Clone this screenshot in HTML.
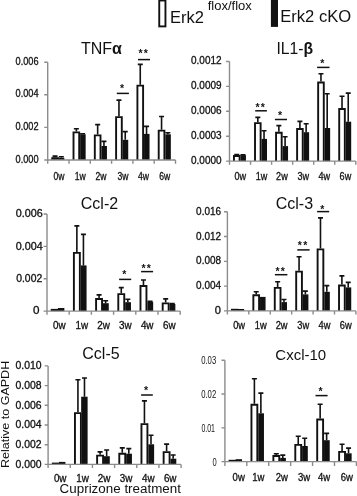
<!DOCTYPE html>
<html><head><meta charset="utf-8"><title>Erk2 cytokine expression</title>
<style>
html,body{margin:0;padding:0;background:#fff;width:357px;height:496px;overflow:hidden}
svg{display:block}
text{font-family:"Liberation Sans", Arial, sans-serif;fill:#111}
.s{stroke:#111;stroke-width:0.3px}
</style></head><body>
<svg width="357" height="496" viewBox="0 0 357 496">
<text class="s" x="38.6" y="64.8" text-anchor="end" font-size="10.5" textLength="23" lengthAdjust="spacingAndGlyphs">0.006</text>
<text class="s" x="38.6" y="97.4" text-anchor="end" font-size="10.5" textLength="23" lengthAdjust="spacingAndGlyphs">0.004</text>
<text class="s" x="38.6" y="130" text-anchor="end" font-size="10.5" textLength="23" lengthAdjust="spacingAndGlyphs">0.002</text>
<text class="s" x="38.6" y="162.6" text-anchor="end" font-size="10.5" textLength="23" lengthAdjust="spacingAndGlyphs">0.000</text>
<rect x="58.15" y="157.8" width="6.19" height="2.2" fill="#111"/><rect x="51.26" y="157.2" width="7.59" height="2.8" fill="#111"/><rect x="79.45" y="134.3" width="6.19" height="25.7" fill="#111"/><rect x="72.56" y="131.4" width="7.59" height="28.6" fill="#fff"/><path d="M73.51 160V132.35H79.2V160" fill="none" stroke="#111" stroke-width="1.9"/><rect x="100.75" y="146" width="6.19" height="14" fill="#111"/><rect x="93.86" y="134.4" width="7.59" height="25.6" fill="#fff"/><path d="M94.81 160V135.35H100.5V160" fill="none" stroke="#111" stroke-width="1.9"/><rect x="122.05" y="139.8" width="6.19" height="20.2" fill="#111"/><rect x="115.16" y="116.2" width="7.59" height="43.8" fill="#fff"/><path d="M116.11 160V117.15H121.8V160" fill="none" stroke="#111" stroke-width="1.9"/><rect x="143.35" y="133.9" width="6.19" height="26.1" fill="#111"/><rect x="136.46" y="84.7" width="7.59" height="75.3" fill="#fff"/><path d="M137.41 160V85.65H143.1V160" fill="none" stroke="#111" stroke-width="1.9"/><rect x="164.65" y="134.3" width="6.19" height="25.7" fill="#111"/><rect x="157.76" y="129.7" width="7.59" height="30.3" fill="#fff"/><path d="M158.71 160V130.65H164.4V160" fill="none" stroke="#111" stroke-width="1.9"/>
<path d="M55.05 157.2V155.8M52.55 156.1H57.55M61.34 157.8V156.4M58.84 156.7H63.84M76.36 131.4V128.4M73.86 128.7H78.86M82.64 134.3V133.4M80.14 133.7H85.14M97.66 134.4V124.3M95.16 124.6H100.16M103.94 146V141.1M101.44 141.4H106.44M118.95 116.2V99.8M116.45 100.1H121.45M125.24 139.8V131.3M122.74 131.6H127.74M140.26 84.7V64.1M137.76 64.4H142.76M146.55 133.9V126.1M144.05 126.4H149.05M161.56 129.7V116.2M159.06 116.5H164.06M167.85 134.3V132.5M165.35 132.8H170.35" stroke="#111" stroke-width="1.6" fill="none"/>
<g stroke="#8c8c8c" stroke-width="1.4" fill="none"><path d="M47.7 62.2V163.7M44.3 160H175.5" /><path d="M44.3 62.2H47.7M44.3 94.8H47.7M44.3 127.4H47.7M69 160V163.7M90.3 160V163.7M111.6 160V163.7M132.9 160V163.7M154.2 160V163.7M175.5 160V163.7" /></g>
<path d="M116.8 93.4H128.9" stroke="#111" stroke-width="1.5"/>
<text x="121.95" y="92.4" text-anchor="middle" font-size="10.5" font-weight="bold">*</text>
<path d="M138 59.6H150" stroke="#111" stroke-width="1.5"/>
<text x="140.45" y="57" text-anchor="middle" font-size="10.5" font-weight="bold">*</text>
<text x="145.75" y="57" text-anchor="middle" font-size="10.5" font-weight="bold">*</text>
<text class="s" x="58.9" y="180" text-anchor="middle" font-size="10.5" textLength="11" lengthAdjust="spacingAndGlyphs">0w</text>
<text class="s" x="80.3" y="180" text-anchor="middle" font-size="10.5" textLength="11" lengthAdjust="spacingAndGlyphs">1w</text>
<text class="s" x="100.9" y="180" text-anchor="middle" font-size="10.5" textLength="11" lengthAdjust="spacingAndGlyphs">2w</text>
<text class="s" x="123" y="180" text-anchor="middle" font-size="10.5" textLength="11" lengthAdjust="spacingAndGlyphs">3w</text>
<text class="s" x="143.4" y="180" text-anchor="middle" font-size="10.5" textLength="11" lengthAdjust="spacingAndGlyphs">4w</text>
<text class="s" x="164.7" y="180" text-anchor="middle" font-size="10.5" textLength="11" lengthAdjust="spacingAndGlyphs">6w</text>
<text class="s" x="221.6" y="64.1" text-anchor="end" font-size="10.5" textLength="30.6" lengthAdjust="spacingAndGlyphs">0.0012</text>
<text class="s" x="221.6" y="89.2" text-anchor="end" font-size="10.5" textLength="30.6" lengthAdjust="spacingAndGlyphs">0.0009</text>
<text class="s" x="221.6" y="114.3" text-anchor="end" font-size="10.5" textLength="30.6" lengthAdjust="spacingAndGlyphs">0.0006</text>
<text class="s" x="221.6" y="139.2" text-anchor="end" font-size="10.5" textLength="30.6" lengthAdjust="spacingAndGlyphs">0.0003</text>
<text class="s" x="221.6" y="164.1" text-anchor="end" font-size="10.5" textLength="30.6" lengthAdjust="spacingAndGlyphs">0.0000</text>
<rect x="239.83" y="155.2" width="6.12" height="5.9" fill="#111"/><rect x="233.01" y="155" width="7.51" height="6.1" fill="#fff"/><path d="M233.96 161.1V155.95H239.58V161.1" fill="none" stroke="#111" stroke-width="1.9"/><rect x="260.88" y="138.9" width="6.12" height="22.2" fill="#111"/><rect x="254.06" y="122.2" width="7.51" height="38.9" fill="#fff"/><path d="M255.01 161.1V123.15H260.62V161.1" fill="none" stroke="#111" stroke-width="1.9"/><rect x="281.93" y="146.1" width="6.12" height="15" fill="#111"/><rect x="275.11" y="131.8" width="7.51" height="29.3" fill="#fff"/><path d="M276.06 161.1V132.75H281.68V161.1" fill="none" stroke="#111" stroke-width="1.9"/><rect x="302.98" y="132.2" width="6.12" height="28.9" fill="#111"/><rect x="296.16" y="128" width="7.51" height="33.1" fill="#fff"/><path d="M297.11 161.1V128.95H302.73V161.1" fill="none" stroke="#111" stroke-width="1.9"/><rect x="324.03" y="128" width="6.12" height="33.1" fill="#111"/><rect x="317.21" y="81.5" width="7.51" height="79.6" fill="#fff"/><path d="M318.16 161.1V82.45H323.78V161.1" fill="none" stroke="#111" stroke-width="1.9"/><rect x="345.07" y="121.7" width="6.12" height="39.4" fill="#111"/><rect x="338.26" y="108.1" width="7.51" height="53" fill="#fff"/><path d="M339.21 161.1V109.05H344.82V161.1" fill="none" stroke="#111" stroke-width="1.9"/>
<path d="M236.77 155V154.3M234.27 154.6H239.27M242.98 155.2V154.6M240.48 154.9H245.48M257.82 122.2V117.1M255.32 117.4H260.32M264.03 138.9V130.4M261.53 130.7H266.53M278.87 131.8V125.3M276.37 125.6H281.37M285.08 146.1V136.5M282.58 136.8H287.58M299.92 128V121.1M297.42 121.4H302.42M306.13 132.2V123.5M303.63 123.8H308.63M320.97 81.5V73.4M318.47 73.7H323.47M327.18 128V93.5M324.68 93.8H329.68M342.02 108.1V95.9M339.52 96.2H344.52M348.23 121.7V92.8M345.73 93.1H350.73" stroke="#111" stroke-width="1.6" fill="none"/>
<g stroke="#8c8c8c" stroke-width="1.4" fill="none"><path d="M229.5 61.5V164.8M226.1 161.1H355.8" /><path d="M226.1 61.5H229.5M226.1 86.4H229.5M226.1 111.3H229.5M226.1 136.2H229.5M250.55 161.1V164.8M271.6 161.1V164.8M292.65 161.1V164.8M313.7 161.1V164.8M334.75 161.1V164.8M355.8 161.1V164.8" /></g>
<path d="M255.2 110.8H266.9" stroke="#111" stroke-width="1.5"/>
<text x="257.5" y="110.5" text-anchor="middle" font-size="10.5" font-weight="bold">*</text>
<text x="262.8" y="110.5" text-anchor="middle" font-size="10.5" font-weight="bold">*</text>
<path d="M274.9 119.5H287" stroke="#111" stroke-width="1.5"/>
<text x="280.05" y="119" text-anchor="middle" font-size="10.5" font-weight="bold">*</text>
<path d="M317.1 67.4H329.5" stroke="#111" stroke-width="1.5"/>
<text x="322.4" y="66.9" text-anchor="middle" font-size="10.5" font-weight="bold">*</text>
<text class="s" x="240.2" y="179.8" text-anchor="middle" font-size="10.5" textLength="11.61" lengthAdjust="spacingAndGlyphs">0w</text>
<text class="s" x="261.5" y="179.8" text-anchor="middle" font-size="10.5" textLength="11.61" lengthAdjust="spacingAndGlyphs">1w</text>
<text class="s" x="281.9" y="179.8" text-anchor="middle" font-size="10.5" textLength="11.61" lengthAdjust="spacingAndGlyphs">2w</text>
<text class="s" x="303.2" y="179.8" text-anchor="middle" font-size="10.5" textLength="11.61" lengthAdjust="spacingAndGlyphs">3w</text>
<text class="s" x="324.2" y="179.8" text-anchor="middle" font-size="10.5" textLength="11.61" lengthAdjust="spacingAndGlyphs">4w</text>
<text class="s" x="345.4" y="179.8" text-anchor="middle" font-size="10.5" textLength="11.61" lengthAdjust="spacingAndGlyphs">6w</text>
<text class="s" x="42.8" y="217.2" text-anchor="end" font-size="10.5" textLength="27" lengthAdjust="spacingAndGlyphs">0.006</text>
<text class="s" x="42.8" y="249.57" text-anchor="end" font-size="10.5" textLength="27" lengthAdjust="spacingAndGlyphs">0.004</text>
<text class="s" x="42.2" y="281.93" text-anchor="end" font-size="10.5" textLength="26" lengthAdjust="spacingAndGlyphs">0.002</text>
<text class="s" x="39.4" y="314.1" text-anchor="end" font-size="10.5" textLength="6.5" lengthAdjust="spacingAndGlyphs">0</text>
<rect x="57.9" y="308" width="6.46" height="3.1" fill="#111"/><rect x="50.74" y="308.9" width="7.86" height="2.2" fill="#111"/><rect x="80.1" y="265.4" width="6.46" height="45.7" fill="#111"/><rect x="72.94" y="251.9" width="7.86" height="59.2" fill="#fff"/><path d="M73.89 311.1V252.85H79.85V311.1" fill="none" stroke="#111" stroke-width="1.9"/><rect x="102.3" y="303.2" width="6.46" height="7.9" fill="#111"/><rect x="95.14" y="298" width="7.86" height="13.1" fill="#fff"/><path d="M96.09 311.1V298.95H102.05V311.1" fill="none" stroke="#111" stroke-width="1.9"/><rect x="124.5" y="302.2" width="6.46" height="8.9" fill="#111"/><rect x="117.34" y="293.2" width="7.86" height="17.9" fill="#fff"/><path d="M118.29 311.1V294.15H124.25V311.1" fill="none" stroke="#111" stroke-width="1.9"/><rect x="146.7" y="301.8" width="6.46" height="9.3" fill="#111"/><rect x="139.54" y="285.1" width="7.86" height="26" fill="#fff"/><path d="M140.49 311.1V286.05H146.45V311.1" fill="none" stroke="#111" stroke-width="1.9"/><rect x="168.9" y="304" width="6.46" height="7.1" fill="#111"/><rect x="161.74" y="302.4" width="7.86" height="8.7" fill="#fff"/><path d="M162.69 311.1V303.35H168.65V311.1" fill="none" stroke="#111" stroke-width="1.9"/>
<path d="M76.87 251.9V225.6M74.37 225.9H79.37M83.43 265.4V234.1M80.93 234.4H85.93M99.07 298V294.6M96.57 294.9H101.57M105.63 303.2V300.5M103.13 300.8H108.13M121.27 293.2V287.3M118.77 287.6H123.77M127.83 302.2V299M125.33 299.3H130.33M143.47 285.1V279.7M140.97 280H145.97M150.03 301.8V300.9M147.53 301.2H152.53M165.67 302.4V298.6M163.17 298.9H168.17M172.23 304V303.2M169.73 303.5H174.73" stroke="#111" stroke-width="1.6" fill="none"/>
<g stroke="#8c8c8c" stroke-width="1.4" fill="none"><path d="M47 214V314.8M43.6 311.1H180.2" /><path d="M43.6 214H47M43.6 246.37H47M43.6 278.73H47M69.2 311.1V314.8M91.4 311.1V314.8M113.6 311.1V314.8M135.8 311.1V314.8M158 311.1V314.8M180.2 311.1V314.8" /></g>
<path d="M119.1 279.4H131.2" stroke="#111" stroke-width="1.5"/>
<text x="124.25" y="278" text-anchor="middle" font-size="10.5" font-weight="bold">*</text>
<path d="M141.1 271.6H153.1" stroke="#111" stroke-width="1.5"/>
<text x="143.55" y="271.5" text-anchor="middle" font-size="10.5" font-weight="bold">*</text>
<text x="148.85" y="271.5" text-anchor="middle" font-size="10.5" font-weight="bold">*</text>
<text class="s" x="59.4" y="328.9" text-anchor="middle" font-size="10.3" textLength="12.6" lengthAdjust="spacingAndGlyphs">0w</text>
<text class="s" x="81.75" y="328.9" text-anchor="middle" font-size="10.3" textLength="12.6" lengthAdjust="spacingAndGlyphs">1w</text>
<text class="s" x="103.65" y="328.9" text-anchor="middle" font-size="10.3" textLength="12.6" lengthAdjust="spacingAndGlyphs">2w</text>
<text class="s" x="125.4" y="328.9" text-anchor="middle" font-size="10.3" textLength="12.6" lengthAdjust="spacingAndGlyphs">3w</text>
<text class="s" x="147.2" y="328.9" text-anchor="middle" font-size="10.3" textLength="12.6" lengthAdjust="spacingAndGlyphs">4w</text>
<text class="s" x="169.3" y="328.9" text-anchor="middle" font-size="10.3" textLength="12.6" lengthAdjust="spacingAndGlyphs">6w</text>
<text class="s" x="221.1" y="214.8" text-anchor="end" font-size="10.5" textLength="25" lengthAdjust="spacingAndGlyphs">0.016</text>
<text class="s" x="221.1" y="239.57" text-anchor="end" font-size="10.5" textLength="25" lengthAdjust="spacingAndGlyphs">0.012</text>
<text class="s" x="221.1" y="264.35" text-anchor="end" font-size="10.5" textLength="25" lengthAdjust="spacingAndGlyphs">0.008</text>
<text class="s" x="221.1" y="289.12" text-anchor="end" font-size="10.5" textLength="25" lengthAdjust="spacingAndGlyphs">0.004</text>
<text class="s" x="221" y="314.1" text-anchor="end" font-size="10.5" textLength="6.2" lengthAdjust="spacingAndGlyphs">0</text>
<rect x="237.91" y="309" width="6.23" height="1.9" fill="#111"/><rect x="230.98" y="308.8" width="7.63" height="2.1" fill="#111"/><rect x="259.33" y="296.9" width="6.23" height="14" fill="#111"/><rect x="252.4" y="294.3" width="7.63" height="16.6" fill="#fff"/><path d="M253.35 310.9V295.25H259.08V310.9" fill="none" stroke="#111" stroke-width="1.9"/><rect x="280.75" y="302.1" width="6.23" height="8.8" fill="#111"/><rect x="273.82" y="286.9" width="7.63" height="24" fill="#fff"/><path d="M274.77 310.9V287.85H280.5V310.9" fill="none" stroke="#111" stroke-width="1.9"/><rect x="302.17" y="294.4" width="6.23" height="16.5" fill="#111"/><rect x="295.24" y="270.7" width="7.63" height="40.2" fill="#fff"/><path d="M296.19 310.9V271.65H301.92V310.9" fill="none" stroke="#111" stroke-width="1.9"/><rect x="323.59" y="291.8" width="6.23" height="19.1" fill="#111"/><rect x="316.66" y="248.4" width="7.63" height="62.5" fill="#fff"/><path d="M317.61 310.9V249.35H323.34V310.9" fill="none" stroke="#111" stroke-width="1.9"/><rect x="345.01" y="287.4" width="6.23" height="23.5" fill="#111"/><rect x="338.08" y="284.6" width="7.63" height="26.3" fill="#fff"/><path d="M339.03 310.9V285.55H344.76V310.9" fill="none" stroke="#111" stroke-width="1.9"/>
<path d="M256.22 294.3V291.5M253.72 291.8H258.72M277.64 286.9V281.5M275.14 281.8H280.14M283.96 302.1V299.2M281.46 299.5H286.46M299.06 270.7V256.5M296.56 256.8H301.56M305.38 294.4V290.8M302.88 291.1H307.88M320.48 248.4V217.6M317.98 217.9H322.98M326.8 291.8V285.3M324.3 285.6H329.3M341.9 284.6V275.6M339.4 275.9H344.4M348.22 287.4V282.1M345.72 282.4H350.72" stroke="#111" stroke-width="1.6" fill="none"/>
<g stroke="#8c8c8c" stroke-width="1.4" fill="none"><path d="M227.4 211.8V314.6M224 310.9H355.92" /><path d="M224 211.8H227.4M224 236.57H227.4M224 261.35H227.4M224 286.12H227.4M248.82 310.9V314.6M270.24 310.9V314.6M291.66 310.9V314.6M313.08 310.9V314.6M334.5 310.9V314.6M355.92 310.9V314.6" /></g>
<path d="M274.9 274.7H287.4" stroke="#111" stroke-width="1.5"/>
<text x="277.6" y="275" text-anchor="middle" font-size="10.5" font-weight="bold">*</text>
<text x="282.9" y="275" text-anchor="middle" font-size="10.5" font-weight="bold">*</text>
<path d="M297.3 249.9H309.6" stroke="#111" stroke-width="1.5"/>
<text x="299.9" y="248.9" text-anchor="middle" font-size="10.5" font-weight="bold">*</text>
<text x="305.2" y="248.9" text-anchor="middle" font-size="10.5" font-weight="bold">*</text>
<path d="M317.1 211.6H329.2" stroke="#111" stroke-width="1.5"/>
<text x="322.25" y="212.9" text-anchor="middle" font-size="10.5" font-weight="bold">*</text>
<text class="s" x="239.1" y="329" text-anchor="middle" font-size="10.5" textLength="11.9" lengthAdjust="spacingAndGlyphs">0w</text>
<text class="s" x="260.7" y="329" text-anchor="middle" font-size="10.5" textLength="11.9" lengthAdjust="spacingAndGlyphs">1w</text>
<text class="s" x="281.6" y="329" text-anchor="middle" font-size="10.5" textLength="11.9" lengthAdjust="spacingAndGlyphs">2w</text>
<text class="s" x="303.2" y="329" text-anchor="middle" font-size="10.5" textLength="11.9" lengthAdjust="spacingAndGlyphs">3w</text>
<text class="s" x="324.5" y="329" text-anchor="middle" font-size="10.5" textLength="11.9" lengthAdjust="spacingAndGlyphs">4w</text>
<text class="s" x="345.8" y="329" text-anchor="middle" font-size="10.5" textLength="11.9" lengthAdjust="spacingAndGlyphs">6w</text>
<text class="s" x="41.6" y="369.2" text-anchor="end" font-size="10.0" textLength="26" lengthAdjust="spacingAndGlyphs">0.010</text>
<text class="s" x="41.6" y="388.9" text-anchor="end" font-size="10.0" textLength="26" lengthAdjust="spacingAndGlyphs">0.008</text>
<text class="s" x="41.6" y="408.6" text-anchor="end" font-size="10.0" textLength="26" lengthAdjust="spacingAndGlyphs">0.006</text>
<text class="s" x="41.6" y="428.3" text-anchor="end" font-size="10.0" textLength="26" lengthAdjust="spacingAndGlyphs">0.004</text>
<text class="s" x="41.6" y="448" text-anchor="end" font-size="10.0" textLength="26" lengthAdjust="spacingAndGlyphs">0.002</text>
<text class="s" x="41.6" y="467.7" text-anchor="end" font-size="10.0" textLength="26" lengthAdjust="spacingAndGlyphs">0.000</text>
<rect x="58.98" y="461.9" width="6.45" height="2.5" fill="#111"/><rect x="51.83" y="462.6" width="7.85" height="1.8" fill="#111"/><rect x="81.16" y="396.7" width="6.45" height="67.7" fill="#111"/><rect x="74" y="412.2" width="7.85" height="52.2" fill="#fff"/><path d="M74.95 464.4V413.15H80.91V464.4" fill="none" stroke="#111" stroke-width="1.9"/><rect x="103.33" y="456.2" width="6.45" height="8.2" fill="#111"/><rect x="96.17" y="454.7" width="7.85" height="9.7" fill="#fff"/><path d="M97.12 464.4V455.65H103.08V464.4" fill="none" stroke="#111" stroke-width="1.9"/><rect x="125.49" y="453.7" width="6.45" height="10.7" fill="#111"/><rect x="118.34" y="452.8" width="7.85" height="11.6" fill="#fff"/><path d="M119.29 464.4V453.75H125.24V464.4" fill="none" stroke="#111" stroke-width="1.9"/><rect x="147.67" y="444.3" width="6.45" height="20.1" fill="#111"/><rect x="140.51" y="423.2" width="7.85" height="41.2" fill="#fff"/><path d="M141.46 464.4V424.15H147.42V464.4" fill="none" stroke="#111" stroke-width="1.9"/><rect x="169.84" y="458.7" width="6.45" height="5.7" fill="#111"/><rect x="162.68" y="451.2" width="7.85" height="13.2" fill="#fff"/><path d="M163.63 464.4V452.15H169.59V464.4" fill="none" stroke="#111" stroke-width="1.9"/>
<path d="M77.93 412.2V379.4M75.43 379.7H80.43M84.48 396.7V377.7M81.98 378H86.98M100.1 454.7V451.6M97.6 451.9H102.6M106.65 456.2V449.7M104.15 450H109.15M122.27 452.8V447.6M119.77 447.9H124.77M128.82 453.7V448.3M126.32 448.6H131.32M144.44 423.2V400.6M141.94 400.9H146.94M150.99 444.3V434.9M148.49 435.2H153.49M166.61 451.2V443.8M164.11 444.1H169.11M173.16 458.7V454.7M170.66 455H175.66" stroke="#111" stroke-width="1.6" fill="none"/>
<g stroke="#8c8c8c" stroke-width="1.4" fill="none"><path d="M48.1 365.9V468.1M44.7 464.4H181.12" /><path d="M44.7 365.9H48.1M44.7 385.6H48.1M44.7 405.3H48.1M44.7 425H48.1M44.7 444.7H48.1M70.27 464.4V468.1M92.44 464.4V468.1M114.61 464.4V468.1M136.78 464.4V468.1M158.95 464.4V468.1M181.12 464.4V468.1" /></g>
<path d="M141.1 395H152.8" stroke="#111" stroke-width="1.5"/>
<text x="146.05" y="394.3" text-anchor="middle" font-size="10.5" font-weight="bold">*</text>
<text class="s" x="60.2" y="482.4" text-anchor="middle" font-size="10.3" textLength="12.6" lengthAdjust="spacingAndGlyphs">0w</text>
<text class="s" x="82.5" y="482.4" text-anchor="middle" font-size="10.3" textLength="12.6" lengthAdjust="spacingAndGlyphs">1w</text>
<text class="s" x="104.1" y="482.4" text-anchor="middle" font-size="10.3" textLength="12.6" lengthAdjust="spacingAndGlyphs">2w</text>
<text class="s" x="126.1" y="482.4" text-anchor="middle" font-size="10.3" textLength="12.6" lengthAdjust="spacingAndGlyphs">3w</text>
<text class="s" x="148.35" y="482.4" text-anchor="middle" font-size="10.3" textLength="12.6" lengthAdjust="spacingAndGlyphs">4w</text>
<text class="s" x="170.2" y="482.4" text-anchor="middle" font-size="10.3" textLength="12.6" lengthAdjust="spacingAndGlyphs">6w</text>
<text x="216.2" y="364.3" text-anchor="end" font-size="10.7" textLength="15" lengthAdjust="spacingAndGlyphs">0.03</text>
<text x="216.2" y="398.07" text-anchor="end" font-size="10.7" textLength="15" lengthAdjust="spacingAndGlyphs">0.02</text>
<text x="215" y="431.83" text-anchor="end" font-size="10.7" textLength="13.6" lengthAdjust="spacingAndGlyphs">0.01</text>
<text x="216.8" y="466" text-anchor="end" font-size="10.7" textLength="4.2" lengthAdjust="spacingAndGlyphs">0</text>
<rect x="235.66" y="459.2" width="6.38" height="2.4" fill="#111"/><rect x="228.58" y="459.8" width="7.78" height="1.8" fill="#111"/><rect x="257.58" y="413.3" width="6.38" height="48.3" fill="#111"/><rect x="250.5" y="403.8" width="7.78" height="57.8" fill="#fff"/><path d="M251.45 461.6V404.75H257.33V461.6" fill="none" stroke="#111" stroke-width="1.9"/><rect x="279.5" y="457.9" width="6.38" height="3.7" fill="#111"/><rect x="272.42" y="455.1" width="7.78" height="6.5" fill="#fff"/><path d="M273.37 461.6V456.05H279.25V461.6" fill="none" stroke="#111" stroke-width="1.9"/><rect x="301.42" y="446" width="6.38" height="15.6" fill="#111"/><rect x="294.34" y="443.9" width="7.78" height="17.7" fill="#fff"/><path d="M295.29 461.6V444.85H301.17V461.6" fill="none" stroke="#111" stroke-width="1.9"/><rect x="323.34" y="440.2" width="6.38" height="21.4" fill="#111"/><rect x="316.26" y="418.6" width="7.78" height="43" fill="#fff"/><path d="M317.21 461.6V419.55H323.09V461.6" fill="none" stroke="#111" stroke-width="1.9"/><rect x="345.26" y="453.3" width="6.38" height="8.3" fill="#111"/><rect x="338.18" y="450.9" width="7.78" height="10.7" fill="#fff"/><path d="M339.13 461.6V451.85H345.01V461.6" fill="none" stroke="#111" stroke-width="1.9"/>
<path d="M254.39 403.8V378.5M251.89 378.8H256.89M260.87 413.3V392.8M258.37 393.1H263.37M276.31 455.1V453.4M273.81 453.7H278.81M282.79 457.9V454.8M280.29 455.1H285.29M298.23 443.9V435.9M295.73 436.2H300.73M304.71 446V438M302.21 438.3H307.21M320.15 418.6V403.9M317.65 404.2H322.65M326.63 440.2V433.1M324.13 433.4H329.13M342.07 450.9V444M339.57 444.3H344.57M348.55 453.3V447.8M346.05 448.1H351.05" stroke="#111" stroke-width="1.6" fill="none"/>
<g stroke="#8c8c8c" stroke-width="1.4" fill="none"><path d="M224.9 360.3V466M221.5 461.6H356.42" /><path d="M221.5 360.3H224.9M221.5 394.07H224.9M221.5 427.83H224.9M246.82 461.6V466M268.74 461.6V466M290.66 461.6V466M312.58 461.6V466M334.5 461.6V466M356.42 461.6V466" /></g>
<path d="M315.5 395.6H327.6" stroke="#111" stroke-width="1.5"/>
<text x="320.65" y="394.7" text-anchor="middle" font-size="10.5" font-weight="bold">*</text>
<text class="s" x="238.7" y="480.9" text-anchor="middle" font-size="10.5" textLength="12.21" lengthAdjust="spacingAndGlyphs">0w</text>
<text class="s" x="258.4" y="480.9" text-anchor="middle" font-size="10.5" textLength="12.21" lengthAdjust="spacingAndGlyphs">1w</text>
<text class="s" x="281.8" y="480.9" text-anchor="middle" font-size="10.5" textLength="12.21" lengthAdjust="spacingAndGlyphs">2w</text>
<text class="s" x="304" y="480.9" text-anchor="middle" font-size="10.5" textLength="12.21" lengthAdjust="spacingAndGlyphs">3w</text>
<text class="s" x="324" y="480.9" text-anchor="middle" font-size="10.5" textLength="12.21" lengthAdjust="spacingAndGlyphs">4w</text>
<text class="s" x="346.9" y="480.9" text-anchor="middle" font-size="10.5" textLength="12.21" lengthAdjust="spacingAndGlyphs">6w</text>
<text x="81" y="54.1" font-size="16">TNF<tspan font-weight="bold">α</tspan></text>
<text x="276.4" y="53.9" font-size="15.7">IL1-<tspan font-weight="bold">β</tspan></text>
<text x="80.8" y="209.2" font-size="16">Ccl-2</text>
<text x="275.7" y="209.2" font-size="16">Ccl-3</text>
<text x="82.3" y="359" font-size="16">Ccl-5</text>
<text x="275.3" y="360.2" font-size="15">Cxcl-10</text>
<text transform="translate(9.4 468.0) rotate(-90)" font-size="10.6" textLength="107.2" lengthAdjust="spacingAndGlyphs">Relative to GAPDH</text>
<text x="59.6" y="493.4" font-size="12" textLength="121.4" lengthAdjust="spacingAndGlyphs">Cuprizone treatment</text>
<rect x="159.25" y="0.5" width="6.2" height="25.9" fill="#fff" stroke="#111" stroke-width="1.9"/>
<text x="170.1" y="22.5" font-size="16.5">Erk2</text>
<text x="207.7" y="10.3" font-size="13">flox/flox</text>
<rect x="270.9" y="-1" width="7.1" height="27.9" fill="#111"/>
<text x="280.2" y="22.2" font-size="16.6">Erk2 cKO</text>
</svg>
</body></html>
